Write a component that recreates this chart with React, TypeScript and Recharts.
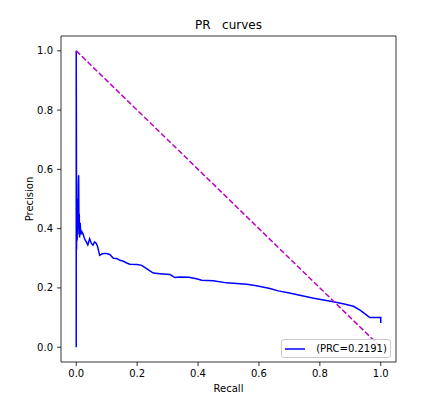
import React from 'react'
import { LineChart, Line, XAxis, YAxis, Legend, Label } from 'recharts'

// PR curve
const recall = [
  0, 0, 0.001, 0.001, 0.002, 0.003, 0.004, 0.005, 0.006, 0.007, 0.008, 0.009,
  0.01, 0.011, 0.013, 0.015, 0.018, 0.022, 0.026, 0.03, 0.033, 0.038, 0.044,
  0.05, 0.055, 0.06, 0.066, 0.07, 0.077, 0.085, 0.093, 0.1, 0.11, 0.122, 0.133,
  0.144, 0.155, 0.166, 0.176, 0.2, 0.215, 0.231, 0.253, 0.275, 0.308, 0.324,
  0.34, 0.37, 0.395, 0.412, 0.45, 0.494, 0.56, 0.592, 0.636, 0.663, 0.7, 0.734,
  0.78, 0.844, 0.88, 0.91, 0.932, 0.945, 0.964, 1.0, 1.0
]
const precision = [
  0, 1.0, 0.5, 0.33, 0.45, 0.36, 0.5, 0.38, 0.44, 0.55, 0.58, 0.4, 0.45, 0.37,
  0.42, 0.38, 0.39, 0.383, 0.37, 0.36, 0.355, 0.345, 0.366, 0.35, 0.344, 0.355,
  0.35, 0.34, 0.31, 0.315, 0.316, 0.316, 0.313, 0.3, 0.299, 0.293, 0.29, 0.284,
  0.28, 0.279, 0.276, 0.265, 0.25, 0.248, 0.245, 0.235, 0.237, 0.236, 0.231,
  0.226, 0.224, 0.217, 0.212, 0.207, 0.198, 0.19, 0.183, 0.175, 0.165, 0.153,
  0.146, 0.138, 0.125, 0.115, 0.1, 0.1, 0.082
]

// diagonal reference line
const diagRecall = [0, 1]
const diagPrecision = [1, 0]

const ticks = [0, 0.2, 0.4, 0.6, 0.8, 1.0]
const domain = [-0.05, 1.05]

const title = 'PR   curves'
const seriesName = ' (PRC=0.2191)'

const prData = recall.map((x, i) => ({ x, y: precision[i] }))
const diagData = diagRecall.map((x, i) => ({ x, y: diagPrecision[i] }))

const font = '"DejaVu Sans", sans-serif'
const tickStyle = { fontSize: 10, fill: '#000', fontFamily: font }
const axisLine = { stroke: '#000', strokeWidth: 0.8 }

const LegendBox = () => (
  <div
    style={{
      width: 110,
      height: 19,
      boxSizing: 'border-box',
      border: '1px solid #cccccc',
      borderRadius: 3,
      background: 'rgba(255,255,255,0.8)',
      display: 'flex',
      alignItems: 'center',
      fontFamily: font,
      fontSize: 10,
      color: '#000'
    }}
  >
    <svg width={20} height={10} style={{ marginLeft: 3 }}>
      <line x1={0} y1={5} x2={20} y2={5} stroke="#0000ff" strokeWidth={1.5} />
    </svg>
    <span style={{ marginLeft: 8, whiteSpace: 'pre' }}>{seriesName}</span>
  </div>
)

const YLabel = (props: any) => {
  const { viewBox } = props
  const cy = viewBox.y + viewBox.height / 2
  return (
    <text
      x={25}
      y={cy}
      transform={`rotate(-90, 25, ${cy})`}
      textAnchor="middle"
      fontSize={10}
      fontFamily={font}
      fill="#000"
    >
      Precision
    </text>
  )
}

const TitleLabel = (props: any) => {
  const { viewBox } = props
  return (
    <text
      x={viewBox.x + viewBox.width / 2}
      y={21}
      textAnchor="middle"
      fontSize={12}
      fontFamily={font}
      fill="#000"
      style={{ whiteSpace: 'pre' }}
    >
      {title}
    </text>
  )
}

export default function App() {
  return (
    <LineChart
      width={422}
      height={387}
      margin={{ top: 27, right: 33, left: 8, bottom: 3 }}
      style={{ fontFamily: font }}
    >
      <XAxis
        type="number"
        dataKey="x"
        domain={domain}
        ticks={ticks}
        allowDataOverflow
        tickFormatter={(v) => v.toFixed(1)}
        tick={tickStyle}
        tickSize={4}
        tickMargin={4}
        tickLine={axisLine}
        axisLine={axisLine}
        height={30}
      >
        <Label
          value="Recall"
          position="insideBottom"
          offset={0}
          style={{ fontSize: 10, fill: '#000', fontFamily: font }}
        />
      </XAxis>
      <XAxis
        xAxisId="top"
        orientation="top"
        type="number"
        dataKey="x"
        domain={domain}
        ticks={ticks}
        allowDataOverflow
        tick={false}
        tickLine={false}
        axisLine={axisLine}
        height={1}
      >
        <Label content={<TitleLabel />} />
      </XAxis>
      <YAxis
        type="number"
        domain={domain}
        ticks={ticks}
        allowDataOverflow
        tickFormatter={(v) => v.toFixed(1)}
        tick={tickStyle}
        tickSize={4}
        tickMargin={4}
        tickLine={axisLine}
        axisLine={axisLine}
        width={45}
      >
        <Label content={<YLabel />} />
      </YAxis>
      <YAxis
        yAxisId="right"
        orientation="right"
        type="number"
        domain={domain}
        ticks={ticks}
        allowDataOverflow
        tick={false}
        tickLine={false}
        axisLine={axisLine}
        width={1}
      />
      <Line
        data={prData}
        dataKey="y"
        name={seriesName}
        type="linear"
        stroke="#0000ff"
        strokeWidth={1.5}
        dot={false}
        activeDot={false}
        isAnimationActive={false}
      />
      <Line
        data={diagData}
        dataKey="y"
        type="linear"
        stroke="#bf00bf"
        strokeWidth={1.5}
        strokeDasharray="5.5 2.4"
        dot={false}
        activeDot={false}
        legendType="none"
        isAnimationActive={false}
      />
      <Legend
        layout="horizontal"
        verticalAlign="middle"
        align="center"
        content={<LegendBox />}
        wrapperStyle={{ left: 273, top: 331, width: 'auto' }}
      />
    </LineChart>
  )
}
